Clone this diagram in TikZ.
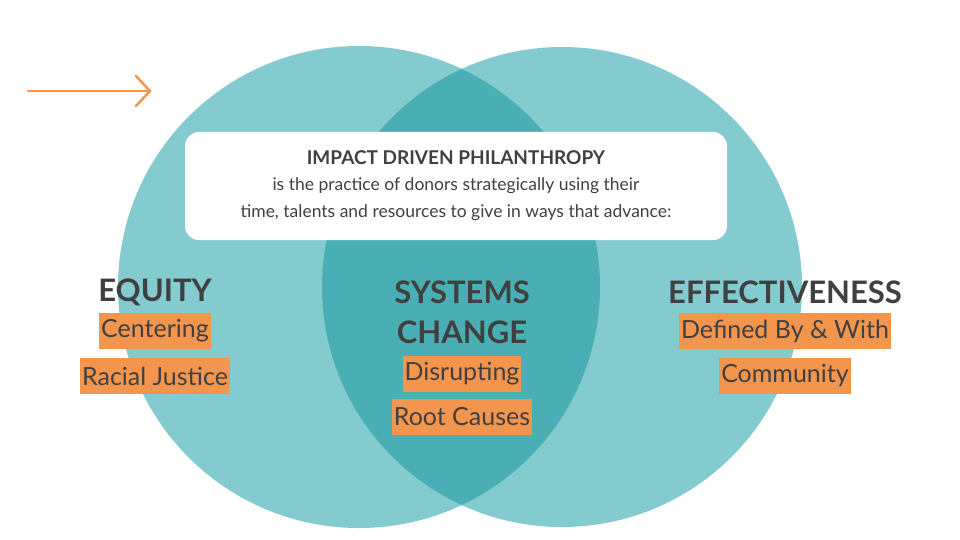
\documentclass[tikz,border=0pt]{standalone}
\usepackage{fontspec}
\setmainfont{Lato}
\definecolor{circ}{HTML}{84CBCF}
\definecolor{lens}{HTML}{4AAFB4}
\definecolor{org}{HTML}{F4954E}
\definecolor{txt}{HTML}{404040}
\begin{document}
\begin{tikzpicture}[x=1pt,y=-1pt,
  head/.style={text=txt,font=\fontsize{31}{31}\selectfont\bfseries,inner sep=0pt},
  hl/.style={fill=org,text=txt,font=\fontsize{25}{25}\selectfont,inner xsep=2pt,inner ysep=4pt,minimum height=36pt}]
\useasboundingbox (0,0) rectangle (960,540);
\fill[white] (0,0) rectangle (960,540);
\fill[circ] (359,287) circle (241);
\fill[circ] (562,287) circle (240);
\begin{scope}
\clip (359,287) circle (241);
\fill[lens] (562,287) circle (240);
\end{scope}
\coordinate (a1) at (28,91); \coordinate (a2) at (150,91);
\draw[org,line width=2.5pt,line cap=round] (a1) -- (a2);
\draw[org,line width=2.5pt,line cap=round,line join=round] (136,76) -- (a2) -- (136,106);
\node[fill=white,rounded corners=14pt,minimum width=542pt,minimum height=108pt] (box) at (456,186) {};
\node[text=txt,font=\fontsize{19}{19}\selectfont\bfseries] (t1) at (456,158) {IMPACT DRIVEN PHILANTHROPY};
\node[text=txt,font=\fontsize{17.5}{17.5}\selectfont] (t2) at (456,186) {is the practice of donors strategically using their};
\node[text=txt,font=\fontsize{17.5}{17.5}\selectfont] (t3) at (456,213) {time, talents and resources to give in ways that advance:};
\node[head] (eq) at (155,292) {EQUITY};
\node[hl] (eq1) at (155,331) {Centering};
\node[hl] (eq2) at (155,376) {Racial Justice};
\node[head] (sc) at (462,292) {SYSTEMS};
\node[head] (sc0) at (462,332) {CHANGE};
\node[hl] (sc1) at (462,374) {Disrupting};
\node[hl] (sc2) at (462,417) {Root Causes};
\node[head] (ef) at (785,292) {EFFECTIVENESS};
\node[hl] (ef1) at (785,331) {Defined By \& With};
\node[hl] (ef2) at (785,376) {Community};
\end{tikzpicture}
\end{document}
